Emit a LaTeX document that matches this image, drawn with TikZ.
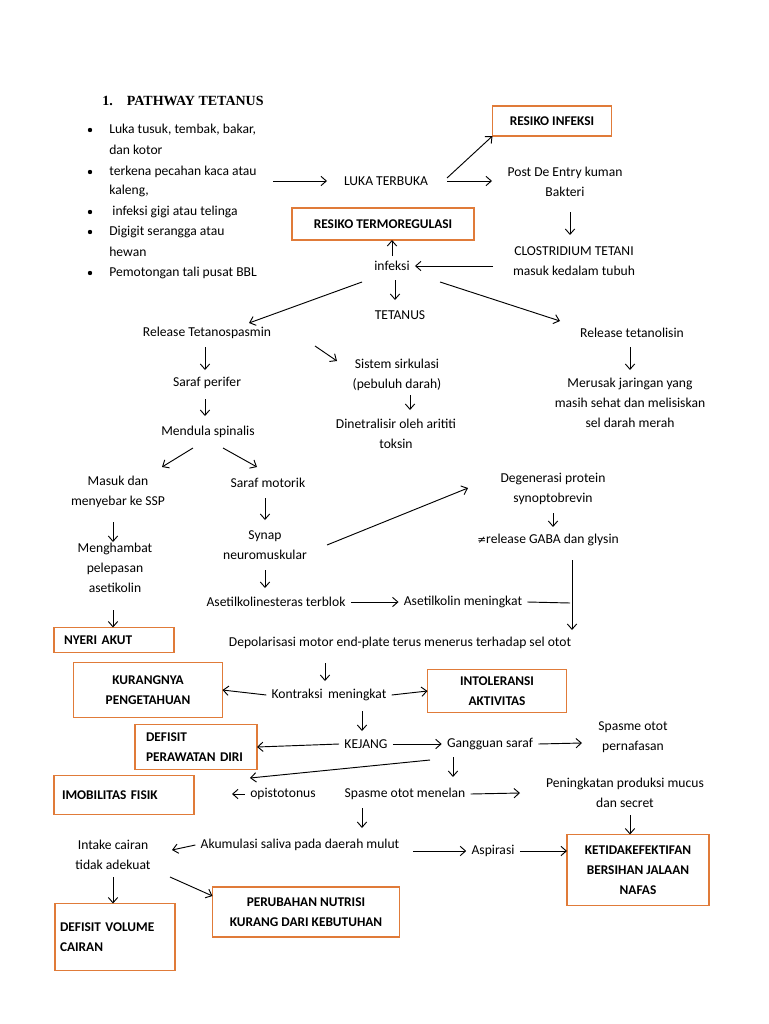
\documentclass[tikz,border=0pt]{standalone}
\usepackage{fontspec}
\setmainfont{Carlito}
\newfontfamily\titlefont{Liberation Serif}
\newfontfamily\symfont{DejaVu Sans}
\usetikzlibrary{arrows.meta}
\definecolor{boxor}{HTML}{E07B39}
\begin{document}
\begin{tikzpicture}[x=0.75pt,y=-0.75pt,
  every node/.style={font=\fontsize{10.2}{15}\selectfont,align=center,inner sep=1pt,outer sep=3pt},
  bx/.style={draw=boxor,line width=1pt,font=\fontsize{10}{15}\selectfont\bfseries,inner sep=0pt,outer sep=0pt},
  ar/.style={-{Straight Barb[length=4pt,width=7pt]},line width=0.7pt},
  ln/.style={line width=0.7pt}]
\useasboundingbox (0,0) rectangle (768,1024);
\node[anchor=west,font=\titlefont\fontsize{10.5}{13}\selectfont\bfseries] (title) at (97,101) {1.\quad PATHWAY TETANUS};
\foreach \y/\t [count=\i] in {130/{Luka tusuk, tembak, bakar,},150/{dan kotor},172/{terkena pecahan kaca atau},191/{kaleng,},212/{\ infeksi gigi atau telinga},232/{Digigit serangga atau},252/{hewan},273/{Pemotongan tali pusat BBL}}
  \node[anchor=west] (l\i) at (104,\y) {\t};
\foreach \y [count=\i] in {130,172,212,232,273} \fill (90,\y) circle (2.2);
\coordinate (bs) at (273,181);
\node (luka) at (386,181) {LUKA TERBUKA};
\node[bx,minimum width=119*0.75pt,minimum height=30*0.75pt] (ri) at (552,121) {RESIKO INFEKSI};
\node (post) at (565,182) {Post De Entry kuman\\Bakteri};
\node (clos) at (574,261) {CLOSTRIDIUM TETANI\\masuk kedalam tubuh};
\node[bx,minimum width=182*0.75pt,minimum height=32*0.75pt] (rt) at (383,224) {RESIKO TERMOREGULASI};
\node (inf) at (392,266) {infeksi};
\node (tet) at (400,315) {TETANUS};
\node (rts) at (207,333) {Release Tetanospasmin};
\node (rtl) at (632,333) {Release tetanolisin};
\node (sis) at (397,375) {Sistem sirkulasi\\(pebuluh darah)};
\node (din) at (396,434) {Dinetralisir oleh arititi\\toksin};
\node (mer) at (630,403) {Merusak jaringan yang\\masih sehat dan melisiskan\\sel darah merah};
\node (sp) at (207,383) {Saraf perifer};
\node (ms) at (208,432) {Mendula spinalis};
\node (mas) at (118,492) {Masuk dan\\menyebar ke SSP};
\node (sm) at (268,483) {Saraf motorik};
\node (mh) at (115,568) {Menghambat\\pelepasan\\asetikolin};
\node[bx,minimum width=120*0.75pt,minimum height=25*0.75pt,align=left,text width=100*0.75pt] (na) at (114,640) {NYERI AKUT};
\node (syn) at (265,545) {Synap\\neuromuskular};
\node (ast) at (276,602) {Asetilkolinesteras terblok};
\node (asm) at (463,602) {Asetilkolin meningkat};
\node (deg) at (553,489) {Degenerasi protein\\synoptobrevin};
\node (gab) at (548,540) {{\symfont\fontsize{8}{10}\selectfont ≠}release GABA dan glysin};
\node (dep) at (400,643) {Depolarisasi motor end-plate terus menerus terhadap sel otot};
\node (kon) at (329,695) {Kontraksi\, meningkat};
\node[bx,minimum width=149*0.75pt,minimum height=55*0.75pt] (kp) at (148,690) {KURANGNYA\\PENGETAHUAN};
\node[bx,minimum width=139*0.75pt,minimum height=43*0.75pt] (ia) at (497,691) {INTOLERANSI\\AKTIVITAS};
\node (kej) at (366,744) {KEJANG};
\node[bx,minimum width=122*0.75pt,minimum height=45*0.75pt,align=left,text width=100*0.75pt] (dp) at (196,747) {DEFISIT\\PERAWATAN DIRI};
\node (gs) at (490,744) {Gangguan saraf};
\node (so) at (633,737) {Spasme otot\\pernafasan};
\node (opi) at (283,794) {opistotonus};
\node[bx,minimum width=140*0.75pt,minimum height=39*0.75pt,align=left,text width=124*0.75pt] (im) at (124,795) {IMOBILITAS FISIK};
\node (som) at (405,794) {Spasme otot menelan};
\node (pen) at (625,793) {Peningkatan produksi mucus\\dan secret};
\node[bx,minimum width=142*0.75pt,minimum height=71*0.75pt] (ket) at (638,870) {KETIDAKEFEKTIFAN\\BERSIHAN JALAAN\\NAFAS};
\node (aku) at (300,845) {Akumulasi saliva pada daerah mulut};
\node (ic) at (113,855) {Intake cairan\\tidak adekuat};
\node (asp) at (493,851) {Aspirasi};
\node[bx,minimum width=120*0.75pt,minimum height=67*0.75pt,align=left,text width=110*0.75pt] (dv) at (115,937) {DEFISIT VOLUME\\CAIRAN};
\node[bx,minimum width=187*0.75pt,minimum height=50*0.75pt] (pn) at (306,912) {PERUBAHAN NUTRISI\\KURANG DARI KEBUTUHAN};
% connectors
\draw[ar] (bs) -- (327,181);
\draw[ar] (447,178) -- (ri.south west);
\draw[ar] (447,181) -- (492,181);
\draw[ar] (570,212) -- (570,235);
\draw[ar] (493,266) -- (inf.east);
\draw[ar] (392,256) -- (rt.south -| 392,0);
\draw[ar] (395,280) -- (395,300);
\draw[ar] (362,282) -- (249,323);
\draw[ar] (440,282) -- (560,321);
\draw[ar] (315,346) -- (337,361);
\draw[ar] (410,395) -- (410,410);
\draw[ar] (630,347) -- (630,370);
\draw[ar] (205,347) -- (205,370);
\draw[ar] (205,399) -- (205,416);
\draw[ar] (193,448) -- (162,467);
\draw[ar] (223,448) -- (257,467);
\draw[ar] (113,522) -- (113,542);
\draw[ar] (113,610) -- (na.north -| 113,0);
\draw[ar] (265,498) -- (265,520);
\draw[ar] (327,545) -- (468,488);
\draw[ar] (265,570) -- (265,588);
\draw[ar] (ast.east) -- (asm.west);
\draw[ar] (553,513) -- (553,527);
\draw[ln] (asm.east) -- (570,603);
\draw[ar] (572,560) -- (572,630);
\draw[ar] (325,663) -- (325,681);
\draw[ar] (kon.west) -- (kp.east);
\draw[ar] (kon.east) -- (ia.west);
\draw[ar] (362,711) -- (362,731);
\draw[ar] (kej.west) -- (dp.east);
\draw[ar] (kej.east) -- (gs.west);
\draw[ar] (gs.east) -- (582,743);
\draw[ar] (453,757) -- (453,777);
\draw[ar] (430,760) -- (250,778);
\draw[ar] (opi.west) -- (232,794);
\draw[ar] (som.east) -- (520,793);
\draw[ar] (630,815) -- (ket.north -| 630,0);
\draw[ar] (362,808) -- (362,828);
\draw[ar] (aku.west) -- (172,850);
\draw[ar] (413,851) -- (asp.west);
\draw[ar] (asp.east) -- (ket.west |- 0,851);
\draw[ar] (113,877) -- (dv.north -| 113,0);
\draw[ar] (170,877) -- (pn.west |- 0,896);
\end{tikzpicture}
\end{document}
